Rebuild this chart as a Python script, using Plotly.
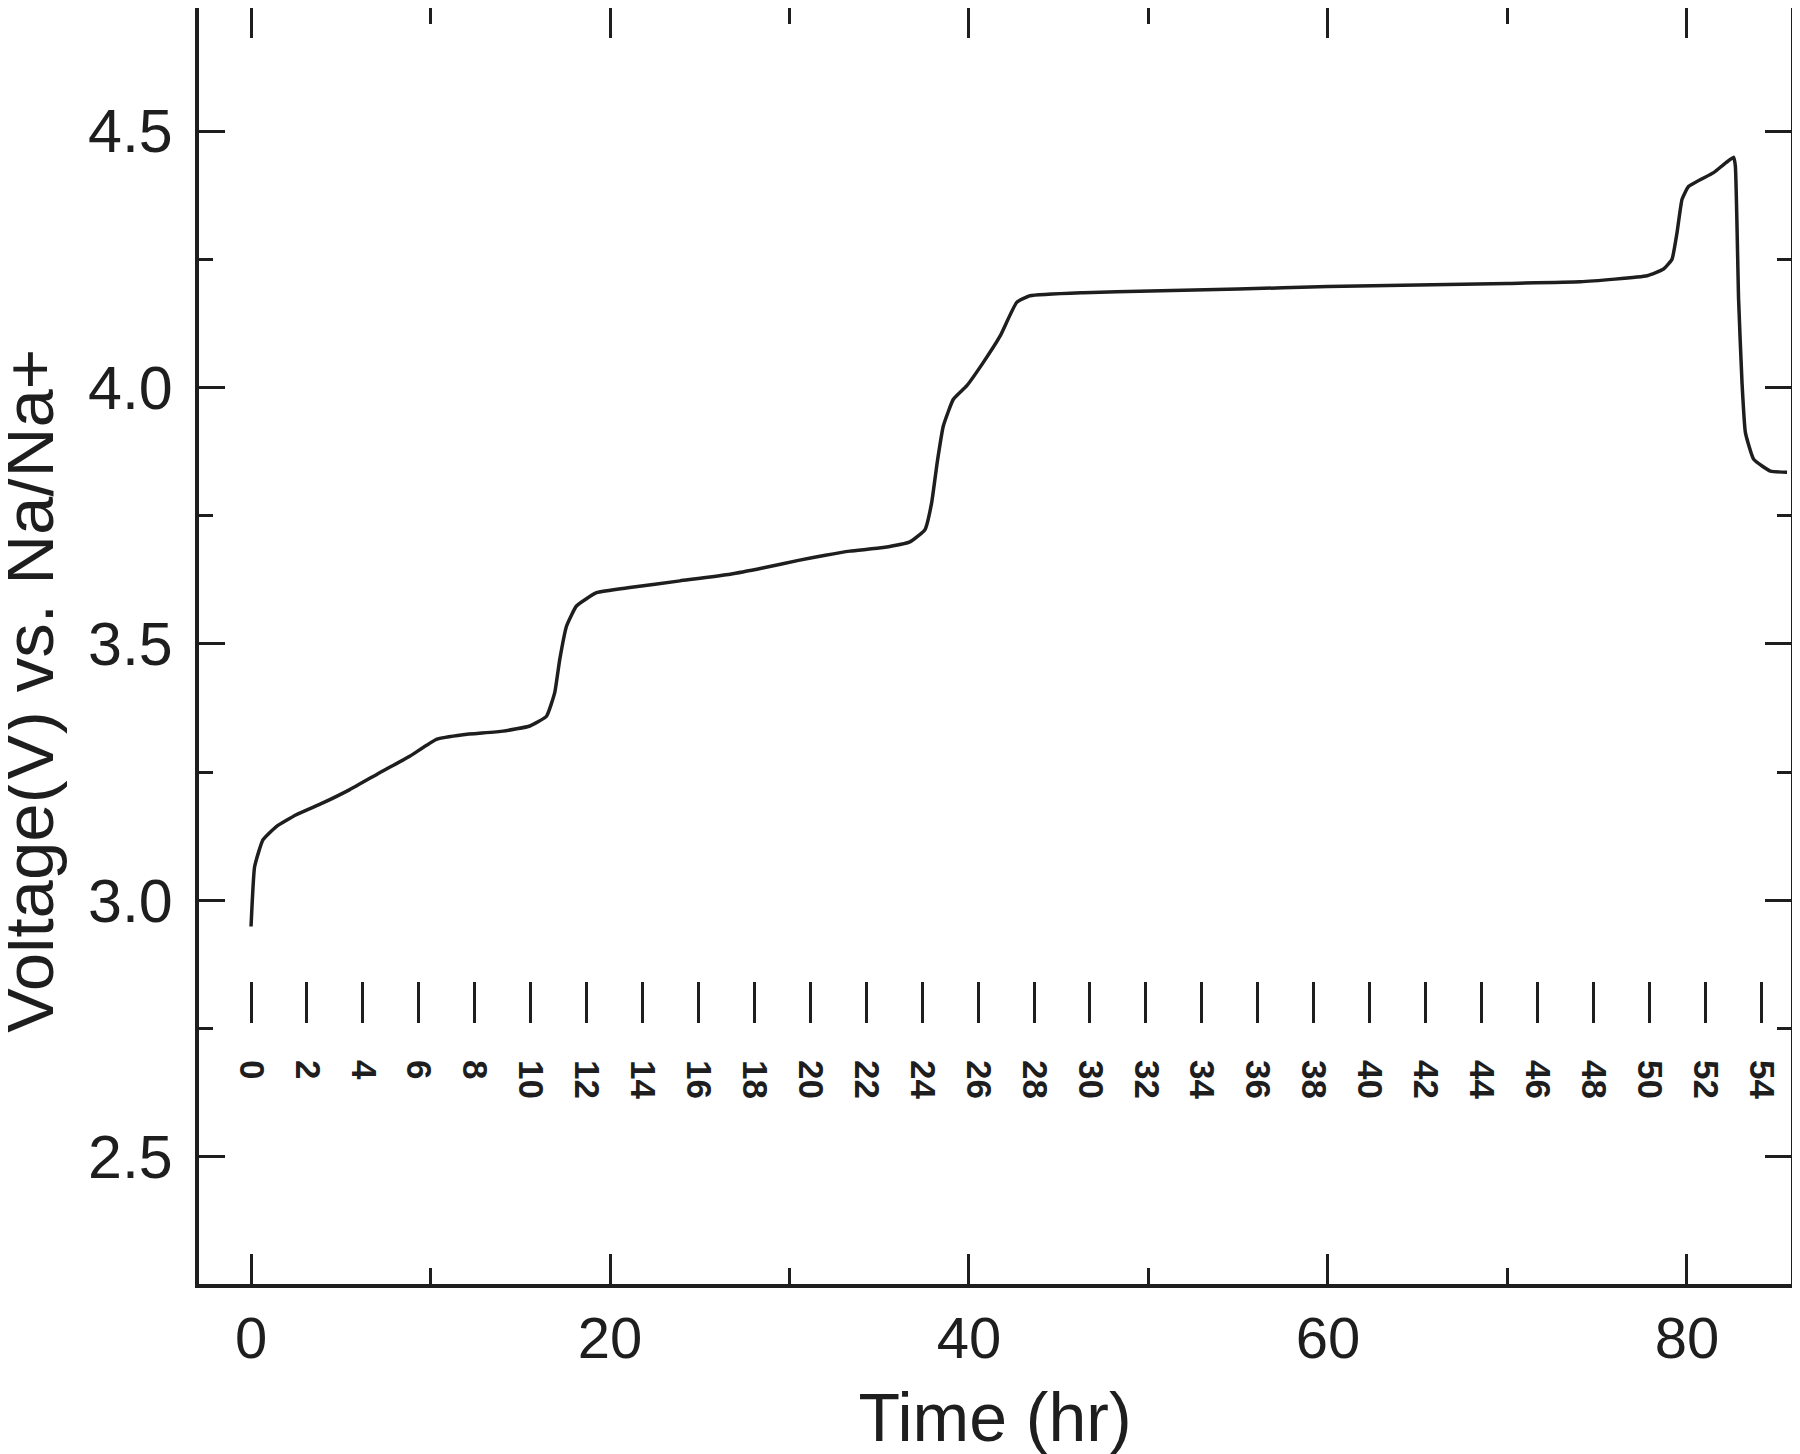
import plotly.graph_objects as go

# charge curve
time_hr = [0.0, 0.2, 0.66, 1.41, 2.52, 4.0, 5.5, 7.17, 8.84, 10.33, 11.81, 14.04,
           15.53, 16.46, 16.92, 17.2, 17.58, 18.13, 19.25, 21.1, 23.9, 26.7, 28.5,
           30.5, 32.0, 33.37, 35.22, 36.71, 37.55, 37.92, 38.23, 38.57, 39.13, 39.87,
           40.8, 41.73, 42.66, 43.4, 46.37, 50.09, 55.0, 60.0, 65.0, 70.0, 74.06,
           77.78, 78.7, 79.17, 79.45, 79.73, 80.09, 81.49, 82.6, 82.7, 82.88, 83.07,
           83.26, 83.72, 84.65, 85.58]
voltage = [2.949, 3.066, 3.118, 3.144, 3.167, 3.19, 3.216, 3.249, 3.281, 3.314, 3.323,
           3.33, 3.34, 3.359, 3.405, 3.47, 3.535, 3.574, 3.6, 3.61, 3.623, 3.636, 3.648,
           3.663, 3.673, 3.681, 3.688, 3.699, 3.723, 3.775, 3.854, 3.925, 3.977, 4.003,
           4.049, 4.1, 4.166, 4.179, 4.185, 4.188, 4.192, 4.197, 4.2, 4.203, 4.206,
           4.218, 4.231, 4.25, 4.302, 4.367, 4.392, 4.419, 4.449, 4.432, 4.172, 4.01,
           3.912, 3.86, 3.837, 3.835]

# secondary scale drawn inside the plot (labels 0..54)
mark_labels = list(range(0, 56, 2))
HR_PER_MARK = 1.558

X_RANGE = [-2.9, 85.8]
Y_RANGE = [2.252, 4.74]
FONT = 'Liberation Sans, Arial, sans-serif'
INK = '#1e1e1e'

fig = go.Figure()
fig.add_trace(go.Scatter(x=time_hr, y=voltage, mode='lines',
                         line=dict(color=INK, width=3.5, shape='spline', smoothing=0.4),
                         showlegend=False, hoverinfo='skip'))
# empty trace so the inner marker axis gets drawn
fig.add_trace(go.Scatter(x=mark_labels[:1], y=[None], xaxis='x2', mode='markers',
                         marker=dict(opacity=0), showlegend=False, hoverinfo='skip'))

fig.update_layout(
    template='none',
    width=1800, height=1454,
    paper_bgcolor='white', plot_bgcolor='white',
    margin=dict(l=191, r=17, t=0, b=178, autoexpand=False),
    font=dict(family=FONT, color=INK),
    xaxis=dict(
        range=X_RANGE, tickmode='array', tickvals=[0, 20, 40, 60, 80],
        ticks='inside', ticklen=30, tickwidth=3, tickcolor=INK,
        minor=dict(dtick=10, tick0=0, ticks='inside', ticklen=16, tickwidth=3, tickcolor=INK),
        showline=True, linewidth=4, linecolor=INK, mirror='ticks',
        showgrid=False, zeroline=False, automargin=False,
        tickfont=dict(size=58, family=FONT, color=INK),
        ticklabelstandoff=0,
        title=dict(text='Time (hr)', font=dict(size=68, family=FONT, color=INK), standoff=26),
    ),
    yaxis=dict(
        range=Y_RANGE, tickmode='array', tickvals=[2.5, 3.0, 3.5, 4.0, 4.5],
        ticktext=['2.5', '3.0', '3.5', '4.0', '4.5'],
        ticks='inside', ticklen=26, tickwidth=3, tickcolor=INK,
        minor=dict(dtick=0.25, tick0=2.5, ticks='inside', ticklen=14, tickwidth=3, tickcolor=INK),
        showline=True, linewidth=4, linecolor=INK, mirror='ticks',
        showgrid=False, zeroline=False, automargin=False,
        tickfont=dict(size=61, family=FONT, color=INK),
        ticklabelstandoff=10,
    ),
    xaxis2=dict(
        overlaying='x', anchor='free', position=0.2375, side='bottom',
        range=[X_RANGE[0] / HR_PER_MARK, X_RANGE[1] / HR_PER_MARK],
        tickmode='array', tickvals=mark_labels, ticktext=[str(v) for v in mark_labels],
        ticks='outside', ticklen=41, tickwidth=3, tickcolor=INK, tickangle=90,
        showline=False, showgrid=False, zeroline=False, automargin=False,
        tickfont=dict(size=35, family=FONT, color=INK, weight='bold'),
        ticklabelstandoff=30,
    ),
    annotations=[dict(text='Voltage(V) vs. Na/Na+', textangle=-90,
                      xref='paper', yref='paper', x=-0.1065, y=0.4647,
                      xanchor='center', yanchor='middle', showarrow=False,
                      font=dict(size=69, family=FONT, color=INK))],
)

fig.write_html("out.html")
